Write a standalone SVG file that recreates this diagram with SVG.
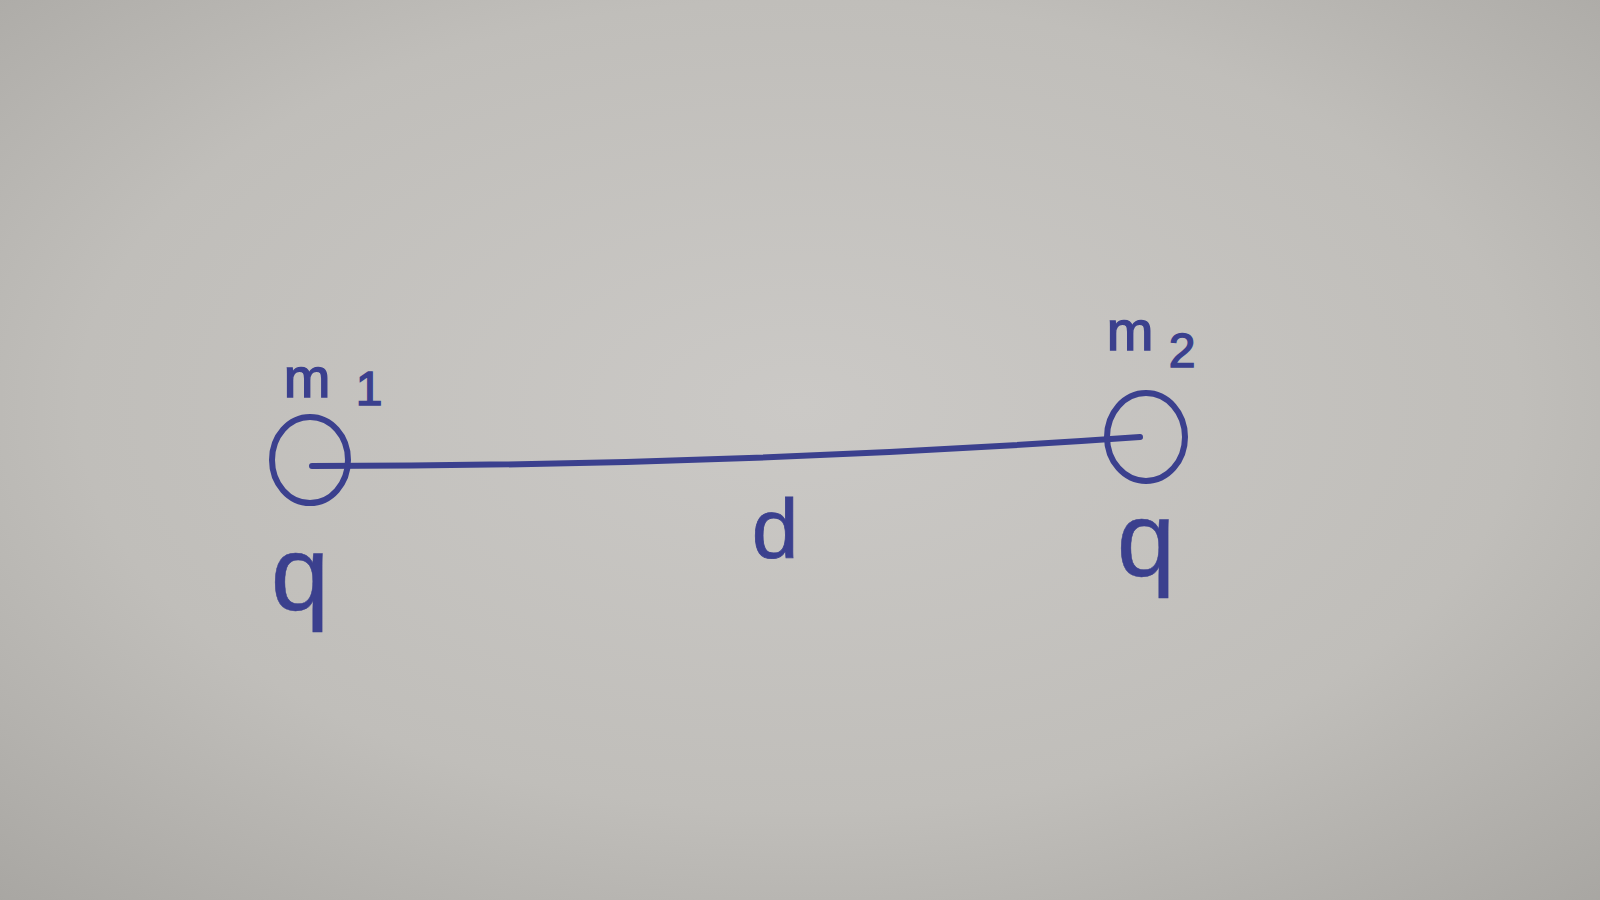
<svg xmlns="http://www.w3.org/2000/svg" width="1600" height="900" viewBox="0 0 1600 900">
  <defs>
    <radialGradient id="paper" cx="0.5" cy="0.45" r="0.75">
      <stop offset="0" stop-color="#cbc9c6"/>
      <stop offset="0.6" stop-color="#c0beba"/>
      <stop offset="1" stop-color="#a8a6a2"/>
    </radialGradient>
    <style>
      .ink { fill: none; stroke: #3b408e; stroke-width: 6; stroke-linecap: round; stroke-linejoin: round; }
      .lbl { fill: #3b408e; stroke: #3b408e; font-family: "Liberation Sans", Arial, sans-serif; text-anchor: middle; }
      .small { font-size: 56px; stroke-width: 1.5; }
      .sub { font-size: 48px; stroke-width: 1.5; }
      .big { font-size: 105px; stroke-width: 0.5; }
      .mid { font-size: 84px; stroke-width: 0.8; }
    </style>
  </defs>
  <rect x="0" y="0" width="1600" height="900" fill="url(#paper)"/>

  <g id="connectors">
    <path class="ink" d="M312,466 Q730,466 1140,437"/>
    <text class="lbl mid" x="775" y="558">d</text>
  </g>

  <g id="node-m1">
    <ellipse class="ink" cx="310" cy="460" rx="38" ry="43"/>
    <text class="lbl small" x="307" y="397">m</text>
    <text class="lbl sub" x="369" y="405">1</text>
    <text class="lbl big" x="300" y="610">q</text>
  </g>

  <g id="node-m2">
    <ellipse class="ink" cx="1146" cy="437" rx="39" ry="44"/>
    <text class="lbl small" x="1130" y="350">m</text>
    <text class="lbl sub" x="1182" y="367">2</text>
    <text class="lbl big" x="1146" y="576">q</text>
  </g>
</svg>
